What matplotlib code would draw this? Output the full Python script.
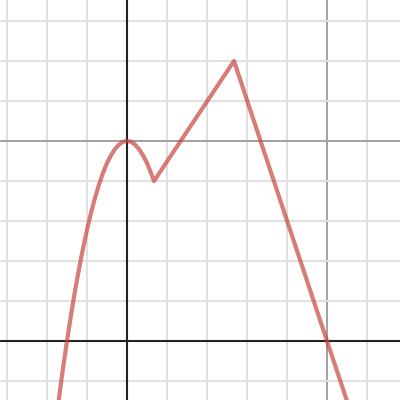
import matplotlib
matplotlib.use("Agg")
import matplotlib.pyplot as plt
import numpy as np

# Curve points (x, y in graph units)
curve_x = [-1.72, -1.6, -1.5, -1.4, -1.3, -1.2, -1.1, -1.0, -0.9, -0.8, -0.7,
           -0.6, -0.5, -0.4, -0.3, -0.2, -0.1, 0.0, 0.1, 0.2, 0.3, 0.4, 0.5,
           0.6, 0.675, 2.675, 5.0, 5.55]
curve_y = [-1.57, -0.68, 0.0, 0.65, 1.25, 1.80, 2.31, 2.78, 3.20, 3.58, 3.91,
           4.20, 4.45, 4.64, 4.80, 4.91, 4.98, 5.0, 4.98, 4.91, 4.80, 4.64, 4.45,
           4.20, 4.0, 7.0, 0.0, -1.65]

x_min, x_max = -3.175, 6.825
y_min, y_max = -1.475, 8.525

fig = plt.figure(figsize=(4, 4), dpi=100)
ax = fig.add_axes([0, 0, 1, 1])
ax.set_xlim(x_min, x_max)
ax.set_ylim(y_min, y_max)
ax.axis('off')

for gx in range(-3, 7):
    if gx == 0:
        continue
    major = gx % 5 == 0
    ax.axvline(gx, color='#a0a0a0' if major else '#e0e0e0', lw=1.4, zorder=1)
for gy in range(-1, 9):
    if gy == 0:
        continue
    major = gy % 5 == 0
    ax.axhline(gy, color='#a0a0a0' if major else '#e0e0e0', lw=1.4, zorder=1)

ax.axvline(0, color='#222222', lw=1.5, zorder=2)
ax.axhline(0, color='#222222', lw=1.5, zorder=2)

ax.plot(curve_x, curve_y, color='#c74440', alpha=0.7, lw=3, zorder=3,
        solid_joinstyle='round', solid_capstyle='round')

fig.savefig('out.png', dpi=100)
